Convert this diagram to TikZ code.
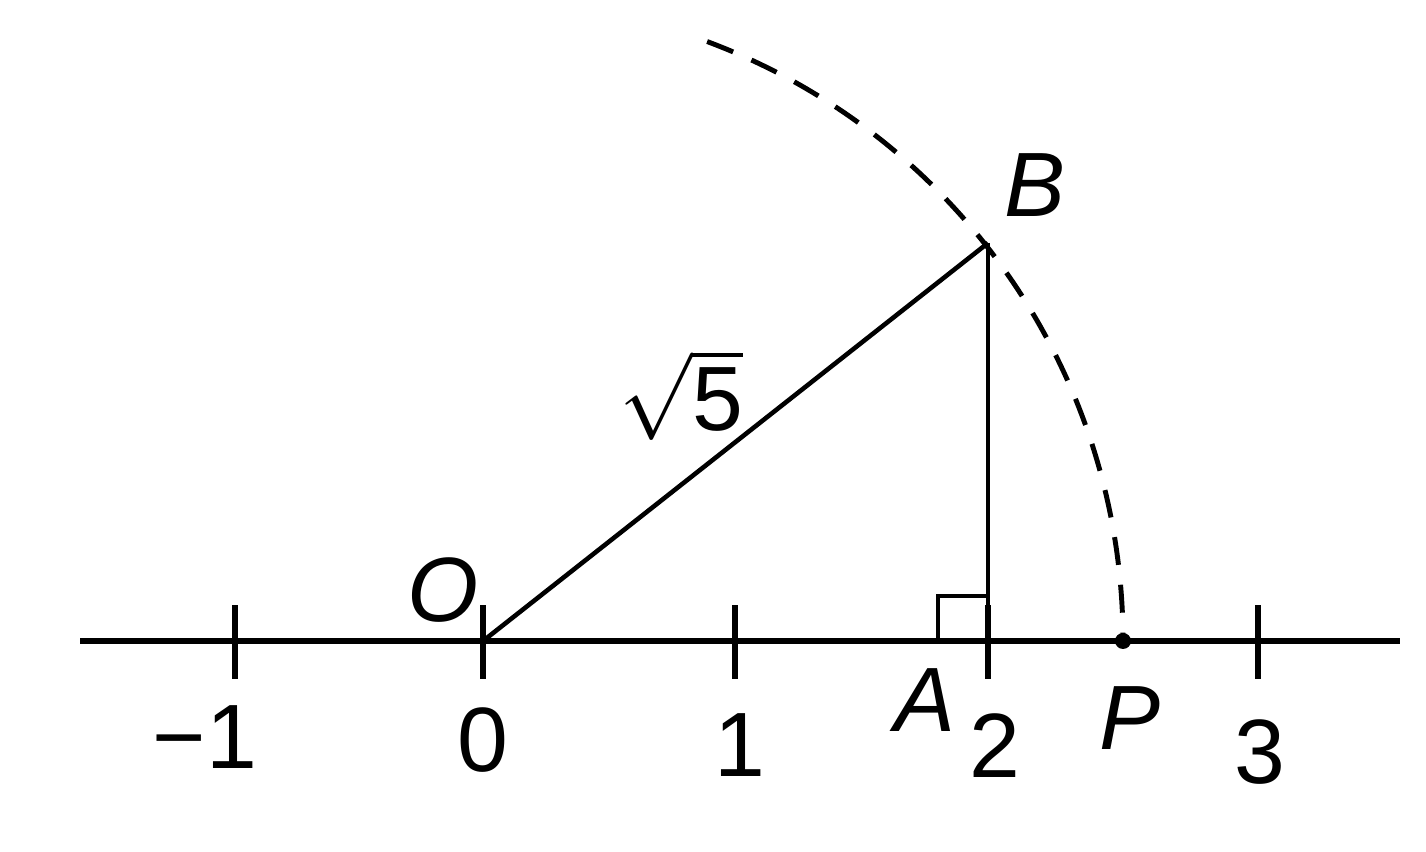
\documentclass[tikz,border=0pt]{standalone}
\usepackage{fontspec}
\setmainfont{Liberation Sans}
\usetikzlibrary{calc}
\usetikzlibrary{positioning}
\tikzstyle{axisline} = [line width=1.6pt]
\tikzstyle{tick} = [line width=1.6pt]
\tikzstyle{side} = [line width=1.3pt]
\tikzstyle{arcdash} = [line width=1.4pt, dash pattern=on 0.28cm off 0.2cm]
\tikzstyle{num} = [font=\fontsize{26}{30}\selectfont, inner sep=0pt]
\tikzstyle{pt} = [font=\fontsize{26}{30}\selectfont\itshape, inner sep=0pt]

\begin{document}
\begin{tikzpicture}

\useasboundingbox (0,0) rectangle (14.26,8.52);

\coordinate (L) at (0.80,2.11);
\coordinate (R) at (14.00,2.11);
\coordinate (O) at (4.83,2.11);
\coordinate (A) at (9.88,2.11);
\coordinate (B) at (9.88,6.09);
\coordinate (P) at ($(O)+(6.40,0)$);

% number line and ticks
\draw[axisline] (L) -- (R);
\foreach \x in {2.35,4.83,7.35,9.88,12.58}
  \draw[tick] (\x,1.73) -- (\x,2.47);

\node[num] (nm1) at (2.05,1.15) {−1};
\node[num] (n0) at (4.83,1.12) {0};
\node[num] (n1) at (7.40,1.07) {1};
\node[num] (n2) at (9.95,1.06) {2};
\node[num] (n3) at (12.60,1.00) {3};

% triangle
\draw[side] (O) -- (B);
\draw[side] (B) -- (A);
\draw[line width=1.1pt] ($(A)+(-0.50,0)$) |- ($(A)+(0,0.45)$);

% arc from O through B
\draw[arcdash] ($(O)+(69.5:6.40)$) arc[start angle=69.5, end angle=0, radius=6.40];
\fill (P) circle (0.08);

\node[pt] (lO) at (4.43,2.62) {O};
\node[pt] (lB) at (10.35,6.67) {B};
\node[pt] (lA) at (9.25,1.52) {A};
\node[pt] (lP) at (11.30,1.34) {P};
\node[num] (rt5) at (6.81,4.57) {$\sqrt{\hbox{5}}$};

\end{tikzpicture}
\end{document}
